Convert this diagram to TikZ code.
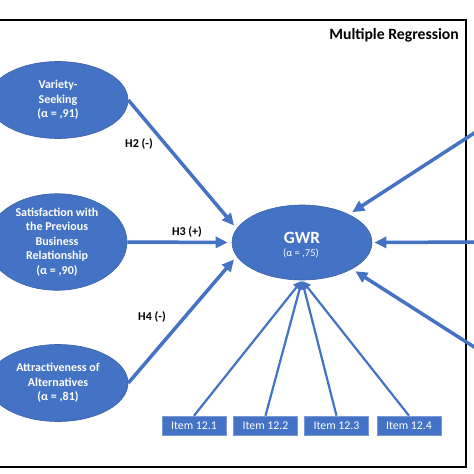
\documentclass[tikz,border=0pt]{standalone}
\usepackage{fontspec}
\setmainfont{Carlito}
\usetikzlibrary{shapes.geometric,arrows.meta}
\definecolor{oblue}{HTML}{4472C4}
\definecolor{oblueline}{HTML}{3A62A8}
\definecolor{boxline}{HTML}{7A98D4}
\begin{document}
\begin{tikzpicture}[x=1pt,y=-1pt,
  latent/.style={ellipse,fill=oblue,draw=oblueline,line width=0.6pt,minimum width=140pt,inner sep=0pt,text=white,font=\bfseries\fontsize{12}{14.5}\selectfont,align=center},
  itembox/.style={rectangle,fill=oblue,draw=boxline,line width=0.6pt,minimum width=64pt,minimum height=19pt,inner sep=0pt,text=white,font=\fontsize{11.8}{13}\selectfont},
  bigarrow/.style={draw=oblue,line width=3.5pt,-{Triangle[length=12pt,width=11pt]}},
  smallarrow/.style={draw=oblue,line width=2.2pt,-{Triangle[length=8pt,width=8pt]}},
  hlabel/.style={font=\bfseries\fontsize{12}{14}\selectfont,text=black,inner sep=0pt}]
\useasboundingbox (0,0) rectangle (474,474);
\begin{scope}
\clip (0,0) rectangle (474,474);
% frame
\draw[black,line width=2pt] (-10,20) -- (466,20) -- (466,467) -- (-10,467);
\node[anchor=east,font=\bfseries\fontsize{15.7}{18}\selectfont,inner sep=0pt] (title) at (459,35) {Multiple Regression};
% latent variables
\node[latent,minimum height=77pt] (vs) at (58,100) {Variety-\\Seeking\\(α = ,91)};
\node[latent,minimum height=94pt] (sat) at (57,242) {Satisfaction with\\the Previous\\Business\\Relationship\\(α = ,90)};
\node[latent,minimum height=77pt] (att) at (58,383) {Attractiveness of\\Alternatives\\(α = ,81)};
\node[latent,minimum height=75pt] (gwr) at (302,242.5) {};
\node[text=white,font=\bfseries\fontsize{17.2}{18}\selectfont,inner sep=0pt] (gwrt) at (302,237.5) {GWR};
\node[text=white,font=\fontsize{10.5}{12}\selectfont,inner sep=0pt] (gwra) at (301,253) {(α = ,75)};
% items
\node[itembox] (i1) at (194,425.5) {Item 12.1};
\node[itembox] (i2) at (265.5,425.5) {Item 12.2};
\node[itembox] (i3) at (336.5,425.5) {Item 12.3};
\node[itembox] (i4) at (409,425.5) {Item 12.4};
% off-image sources
\coordinate (r1) at (482,128);
\coordinate (r2) at (482,242);
\coordinate (r3) at (482,352);
% arrows
\draw[bigarrow,shorten >=4pt] (vs.east) -- (gwr.168);
\draw[bigarrow,shorten >=4pt] (sat.east) -- (gwr.west);
\draw[bigarrow,shorten >=4pt] (att.east) -- (gwr.192);
\draw[bigarrow,shorten >=4pt] (r1) -- (gwr.31);
\draw[bigarrow,shorten >=2pt] (r2) -- (gwr.east);
\draw[bigarrow,shorten >=4pt] (r3) -- (gwr.-28);
\foreach \i in {i1,i2,i3,i4}{
  \draw[smallarrow,shorten >=1pt] (\i.north) -- (gwr.south);
}
% labels
\node[hlabel] (h2) at (139,144) {H2 (-)};
\node[hlabel] (h3) at (187,232) {H3 (+)};
\node[hlabel] (h4) at (152,317) {H4 (-)};
\end{scope}
\end{tikzpicture}
\end{document}
